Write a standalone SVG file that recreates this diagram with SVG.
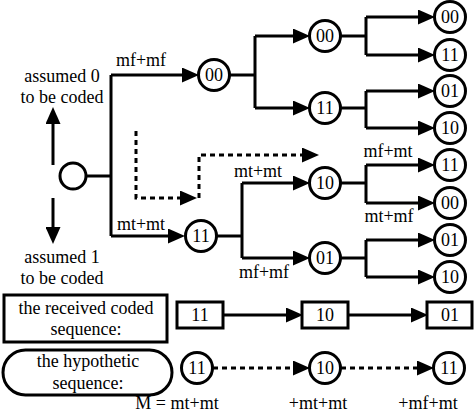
<svg xmlns="http://www.w3.org/2000/svg" width="474" height="412" viewBox="0 0 474 412" font-family="'Liberation Serif', 'DejaVu Serif', serif">
<defs>
<marker id="ah" markerUnits="userSpaceOnUse" markerWidth="17" markerHeight="15" refX="6" refY="7.5" orient="auto" viewBox="0 0 17 15">
<path d="M0,0 L17,7.5 L0,15 z" fill="#000"/>
</marker>
</defs>
<style>
text{font-family:'Liberation Serif','DejaVu Serif',serif;font-size:18px;fill:#000;text-anchor:middle}
.ln{fill:none;stroke:#000;stroke-width:3}
.ar{fill:none;stroke:#000;stroke-width:3;marker-end:url(#ah)}
.da{fill:none;stroke:#000;stroke-width:3;stroke-dasharray:5,4;marker-end:url(#ah)}
.nd circle{fill:#fff;stroke:#000;stroke-width:3}
.bx rect{fill:#fff;stroke:#000;stroke-width:3}
</style>
<rect width="474" height="412" fill="#fff"/>
<g id="connectors">
<path class="ln" d="M86,176 H111 M111,75 V236"/>
<path class="ar" d="M111,75 H188"/>
<path class="ar" d="M111,236 H174"/>
<path class="ln" d="M230,75 H255 M255,36 V108"/>
<path class="ar" d="M255,36 H299"/>
<path class="ar" d="M255,108 H299"/>
<path class="ln" d="M217,236 H242 M242,183 V258"/>
<path class="ar" d="M242,183 H299"/>
<path class="ar" d="M242,258 H299"/>
<path class="ln" d="M341,36 H366 M366,17 V55"/>
<path class="ar" d="M366,17 H424"/>
<path class="ar" d="M366,55 H424"/>
<path class="ln" d="M341,108 H366 M366,91 V128"/>
<path class="ar" d="M366,91 H424"/>
<path class="ar" d="M366,128 H424"/>
<path class="ln" d="M341,183 H366 M366,165 V203"/>
<path class="ar" d="M366,165 H424"/>
<path class="ar" d="M366,203 H424"/>
<path class="ln" d="M341,258 H366 M366,240 V277"/>
<path class="ar" d="M366,240 H424"/>
<path class="ar" d="M366,277 H424"/>
<path class="ar" d="M53,165 V118" />
<path class="ar" d="M53,198 V233" />
<path class="da" d="M136,131 V198 H186"/>
<path class="da" d="M199,198 V155 H308"/>
<path class="ar" d="M223,315 H292"/>
<path class="ar" d="M348,315 H417"/>
<path class="da" d="M213,368 H299"/>
<path class="da" d="M341,368 H423"/>
</g>
<g id="start" class="nd"><circle cx="73" cy="176" r="13"/></g>
<g id="n1_00" class="nd"><circle cx="214" cy="75" r="15.5"/><text x="214" y="81">00</text></g>
<g id="n1_11" class="nd"><circle cx="201" cy="236" r="15.5"/><text x="201" y="242">11</text></g>
<g id="n2_00" class="nd"><circle cx="325" cy="36" r="15.5"/><text x="325" y="42">00</text></g>
<g id="n2_11" class="nd"><circle cx="325" cy="108" r="15.5"/><text x="325" y="114">11</text></g>
<g id="n2_10" class="nd"><circle cx="325" cy="183" r="15.5"/><text x="325" y="189">10</text></g>
<g id="n2_01" class="nd"><circle cx="325" cy="258" r="15.5"/><text x="325" y="264">01</text></g>
<g id="n3_a" class="nd"><circle cx="450" cy="17" r="15.5"/><text x="450" y="23">00</text></g>
<g id="n3_b" class="nd"><circle cx="450" cy="55" r="15.5"/><text x="450" y="61">11</text></g>
<g id="n3_c" class="nd"><circle cx="450" cy="91" r="15.5"/><text x="450" y="97">01</text></g>
<g id="n3_d" class="nd"><circle cx="450" cy="128" r="15.5"/><text x="450" y="134">10</text></g>
<g id="n3_e" class="nd"><circle cx="450" cy="165" r="15.5"/><text x="450" y="171">11</text></g>
<g id="n3_f" class="nd"><circle cx="450" cy="203" r="15.5"/><text x="450" y="209">00</text></g>
<g id="n3_g" class="nd"><circle cx="450" cy="240" r="15.5"/><text x="450" y="246">01</text></g>
<g id="n3_h" class="nd"><circle cx="450" cy="277" r="15.5"/><text x="450" y="283">10</text></g>
<g id="labels">
<text x="141" y="66">mf+mf</text>
<text x="141" y="230">mt+mt</text>
<text x="258" y="177">mt+mt</text>
<text x="264" y="278">mf+mf</text>
<text x="388" y="157">mf+mt</text>
<text x="389" y="222">mt+mf</text>
<text x="62" y="82">assumed 0</text>
<text x="62" y="103">to be coded</text>
<text x="62" y="263">assumed 1</text>
<text x="62" y="284">to be coded</text>
<text x="177" y="409">M = mt+mt</text>
<text x="318" y="409">+mt+mt</text>
<text x="428" y="409">+mf+mt</text>
</g>
<g id="received" class="bx"><rect x="4" y="295" width="163" height="47"/><text x="86" y="314">the received coded</text><text x="86" y="335">sequence:</text></g>
<g id="r11" class="bx"><rect x="177" y="302" width="46" height="26"/><text x="200" y="321">11</text></g>
<g id="r10" class="bx"><rect x="302" y="302" width="46" height="26"/><text x="325" y="321">10</text></g>
<g id="r01" class="bx"><rect x="427" y="302" width="45" height="26"/><text x="450" y="321">01</text></g>
<g id="hypothetic" class="bx"><rect x="3" y="350" width="169" height="45" rx="22.5"/><text x="88" y="367">the hypothetic</text><text x="88" y="389">sequence:</text></g>
<g id="h11" class="nd"><circle cx="197" cy="368" r="15.5"/><text x="197" y="374">11</text></g>
<g id="h10" class="nd"><circle cx="325" cy="368" r="15.5"/><text x="325" y="374">10</text></g>
<g id="h11b" class="nd"><circle cx="449" cy="368" r="15.5"/><text x="449" y="374">11</text></g>
</svg>
